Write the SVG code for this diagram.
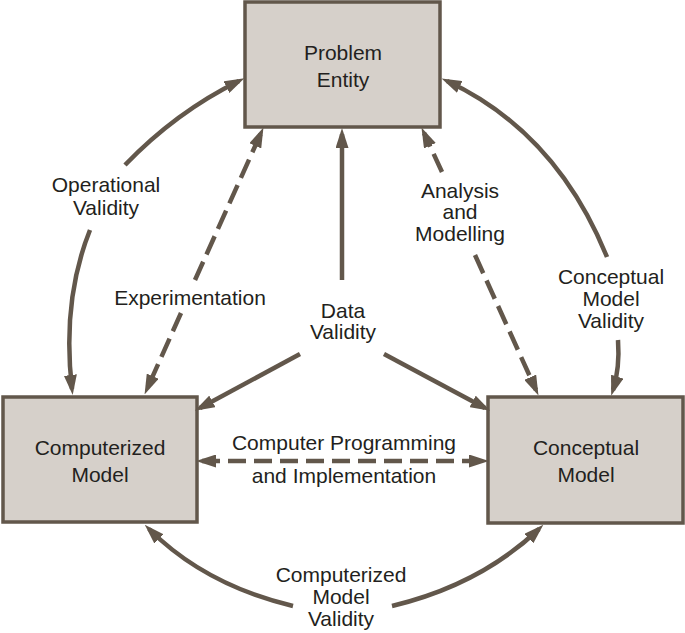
<svg xmlns="http://www.w3.org/2000/svg" width="685" height="633" viewBox="0 0 685 633">
<style>
.box{fill:#d6d0ca;stroke:#62574b;stroke-width:3.5}
.t{font-family:"Liberation Sans",Arial,sans-serif;font-size:21px;fill:#231f20;text-anchor:middle}
.c{fill:none;stroke:#62574b;stroke-width:4.5}
.d{stroke-dasharray:20 8}
.h{stroke-dasharray:18 8}
</style>
<defs>
<marker id="ah" viewBox="0 0 20 13" refX="14" refY="6.5" markerWidth="20" markerHeight="13" markerUnits="userSpaceOnUse" orient="auto-start-reverse">
<path d="M0,0 L20,6.5 L0,13 z" fill="#62574b"/>
</marker>
</defs>
<rect width="685" height="633" fill="#ffffff"/>
<g id="problem-entity">
<rect class="box" x="245" y="2" width="195" height="125"/>
<text class="t" x="343" y="60">Problem</text>
<text class="t" x="343" y="87">Entity</text>
</g>
<g id="computerized-model">
<rect class="box" x="3" y="397" width="194" height="125"/>
<text class="t" x="100" y="455">Computerized</text>
<text class="t" x="100" y="482">Model</text>
</g>
<g id="conceptual-model">
<rect class="box" x="488" y="397" width="195" height="126"/>
<text class="t" x="586" y="455">Conceptual</text>
<text class="t" x="586" y="482">Model</text>
</g>
<g id="connectors">
<path class="c" d="M342,280 L342,134" marker-end="url(#ah)"/>
<path class="c" d="M300,354 L200,408" marker-end="url(#ah)"/>
<path class="c" d="M384,354 L485,408" marker-end="url(#ah)"/>
<path class="c d" d="M195,280 L261,133" marker-end="url(#ah)"/>
<path class="c d" d="M181,313 L147,389" marker-end="url(#ah)"/>
<path class="c d" d="M442,172 L424,133" marker-end="url(#ah)"/>
<path class="c d" d="M475,255 L536,390" marker-end="url(#ah)"/>
<path class="c h" d="M202,461 L483,461" marker-start="url(#ah)" marker-end="url(#ah)"/>
<path class="c" d="M125,165 Q176,112 239,81" marker-end="url(#ah)"/>
<path class="c" d="M90,230 C74,270 64,320 72,389" marker-end="url(#ah)"/>
<path class="c" d="M607,257 Q556,132 447,81" marker-end="url(#ah)"/>
<path class="c" d="M618,340 Q620,368 613,390" marker-end="url(#ah)"/>
<path class="c" d="M293,606 Q205,585 149,529" marker-end="url(#ah)"/>
<path class="c" d="M392,606 Q480,585 539,529" marker-end="url(#ah)"/>
</g>
<g id="labels">
<text class="t" x="106" y="192">Operational</text>
<text class="t" x="106" y="215">Validity</text>
<text class="t" x="190" y="305">Experimentation</text>
<text class="t" x="343" y="318">Data</text>
<text class="t" x="343" y="339">Validity</text>
<text class="t" x="460" y="198">Analysis</text>
<text class="t" x="460" y="219">and</text>
<text class="t" x="460" y="241">Modelling</text>
<text class="t" x="611" y="284">Conceptual</text>
<text class="t" x="611" y="306">Model</text>
<text class="t" x="611" y="328">Validity</text>
<text class="t" x="344" y="450">Computer Programming</text>
<text class="t" x="344" y="483">and Implementation</text>
<text class="t" x="341" y="582">Computerized</text>
<text class="t" x="341" y="604">Model</text>
<text class="t" x="341" y="626">Validity</text>
</g>
</svg>
